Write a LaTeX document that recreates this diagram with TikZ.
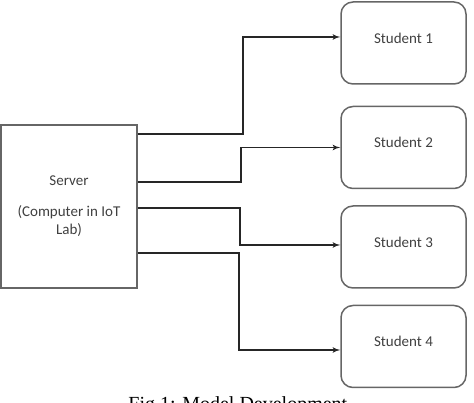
\documentclass[tikz,border=0pt]{standalone}
\usepackage{fontspec}
\setmainfont{Carlito}
\newfontfamily\capfont{Liberation Serif}
\usepackage{tikz}
\usetikzlibrary{arrows,positioning}

\begin{document}
\begin{tikzpicture}[
    x=1pt,y=1pt,->,>=latex',thick,node distance=16pt,
  server/.style={rectangle,draw=black!60,line width=1.5pt,minimum width=136pt,minimum height=163pt,align=center,font=\fontsize{15}{18.5}\selectfont,text=black!75},
  student/.style={rectangle,rounded corners=12pt,draw=black!60,line width=1.5pt,minimum width=125pt,minimum height=82pt,text depth=10pt,font=\fontsize{15}{18}\selectfont,text=black!75},
  link/.style={draw=black!85,line width=1.6pt},
]
  \useasboundingbox (0,0) rectangle (474,403);

  \node[server] (server) at (69,196.5) {Server\\[12pt](Computer in IoT\\Lab)};
  \node[student] (s1) at (403.5,360) {Student 1};
  \node[student] (s2) [below=21pt of s1] {Student 2};
  \node[student] (s3) [below=16pt of s2] {Student 3};
  \node[student] (s4) [below=16pt of s3] {Student 4};

  \draw [link] ([yshift=-10pt]server.north east) -- ++(105,0) |- ([yshift=6pt]s1.west);
  \draw [link] ([yshift=-58pt]server.north east) -- ++(103,0) |- (s2.west);
  \draw [link] ([yshift=-84pt]server.north east) -- ++(102,0) |- ([yshift=2pt]s3.west);
  \draw [link] ([yshift=-129pt]server.north east) -- ++(101,0) |- ([yshift=-3.5pt]s4.west);

  \node[anchor=base west,inner sep=0pt,font=\capfont\fontsize{20}{24}\selectfont] (caption) at (128,-8) {Fig 1: Model Development};
\end{tikzpicture}
\end{document}
